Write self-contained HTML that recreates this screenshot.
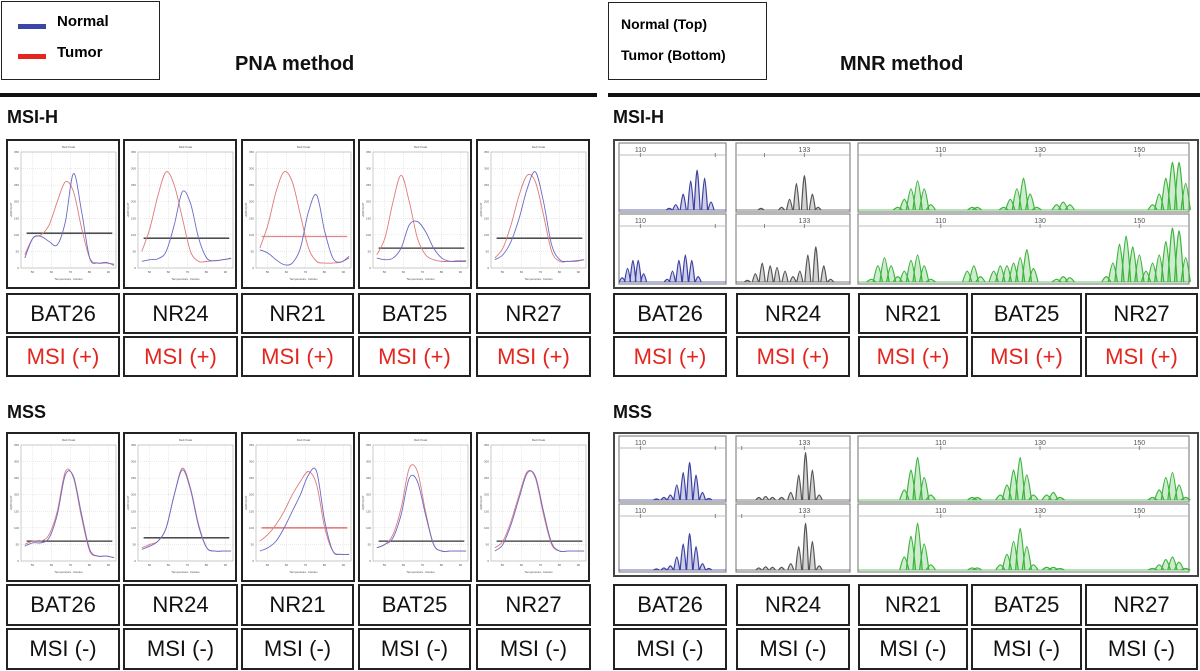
<!DOCTYPE html>
<html><head><meta charset="utf-8"><style>
body{margin:0;background:#fff;width:1200px;height:671px;overflow:hidden;position:relative;font-family:"Liberation Sans",sans-serif}
.abs{position:absolute}
.box{position:absolute;border:2px solid #222;box-sizing:border-box;display:flex;align-items:center;justify-content:center;font-size:22px;color:#111}
.red{color:#e3261f}
.hdr{position:absolute;font-weight:bold;font-size:20px;color:#111}
.sec{position:absolute;font-weight:bold;font-size:18px;color:#111}
</style></head><body>
<div class="abs" style="left:1px;top:1px;width:159px;height:79px;border:1px solid #222;box-sizing:border-box">
 <div class="abs" style="left:16px;top:22px;width:28px;height:5px;background:#3a46a8"></div>
 <div class="abs" style="left:55px;top:11px;font-weight:bold;font-size:15px">Normal</div>
 <div class="abs" style="left:16px;top:52px;width:28px;height:5px;background:#e3261f"></div>
 <div class="abs" style="left:55px;top:42px;font-weight:bold;font-size:15px">Tumor</div>
</div>
<div class="hdr" style="left:235px;top:53px">PNA method</div>
<div class="abs" style="left:0;top:93px;width:597px;height:4px;background:#111"></div>
<div class="abs" style="left:608px;top:2px;width:159px;height:78px;border:1px solid #222;box-sizing:border-box;font-weight:bold;font-size:14px">
 <div class="abs" style="left:12px;top:13px">Normal (Top)</div>
 <div class="abs" style="left:12px;top:44px">Tumor (Bottom)</div>
</div>
<div class="hdr" style="left:840px;top:53px">MNR method</div>
<div class="abs" style="left:608px;top:93px;width:592px;height:4px;background:#111"></div>
<div class="sec" style="left:7px;top:107px">MSI-H</div>
<div class="sec" style="left:613px;top:107px">MSI-H</div>
<div class="sec" style="left:7px;top:402px">MSS</div>
<div class="sec" style="left:613px;top:402px">MSS</div>
<div id="root"></div>
<script>
const markers = ["BAT26","NR24","NR21","BAT25","NR27"];
const hRed = [
 [40,90,100,130,200,260,230,120,30,15,15,12],
 [50,120,220,290,250,150,50,20,20,22,25,28],
 [60,130,230,290,260,160,60,20,15,15,18,30],
 [40,90,200,280,200,90,40,25,20,20,22,22],
 [30,60,130,220,280,260,160,50,20,20,20,25]];
const hBlue = [
 [30,90,95,80,70,140,285,170,30,15,17,8],
 [20,25,28,50,130,230,195,90,30,22,25,30],
 [55,45,25,10,15,60,170,220,110,30,18,35],
 [30,25,30,60,130,140,110,60,30,20,20,20],
 [25,40,80,150,240,290,200,70,25,20,22,25]];
const hThr = [105,90,95,60,90];
const sRed = [
 [50,60,60,80,150,270,250,130,30,15,15,10],
 [40,50,60,100,200,280,220,110,40,30,30,30],
 [60,80,110,150,200,240,270,230,100,30,20,20],
 [40,50,80,160,280,270,150,50,30,30,30,30],
 [40,60,120,200,270,250,140,50,30,30,30,30]];
const sBlue = [
 [45,55,55,70,140,260,255,140,35,15,15,10],
 [35,45,60,100,200,275,215,105,40,30,30,30],
 [30,40,60,100,150,200,260,270,120,30,20,20],
 [40,50,70,140,250,240,140,50,30,30,30,30],
 [30,50,110,190,265,255,150,55,30,30,30,30]];
const sThr = [60,70,100,60,60];
const yTicks = [0,50,100,150,200,250,300,350];
const xTicks = ["50","60","70","80","90"];
const hBat26TopPos=[0.47,0.53,0.6,0.67,0.73,0.8,0.86], hBat26TopH=[0.03,0.1,0.3,0.55,0.75,0.6,0.15];
const hBat26BotPos=[0.03,0.08,0.13,0.18,0.23,0.45,0.5,0.56,0.62,0.68,0.74], hBat26BotH=[0.08,0.25,0.4,0.4,0.15,0.05,0.2,0.4,0.5,0.4,0.1];
const hNr24TopPos=[0.22,0.4,0.47,0.53,0.6,0.67,0.72], hNr24TopH=[0.03,0.05,0.2,0.5,0.65,0.3,0.05];
const hNr24BotPos=[0.1,0.17,0.23,0.3,0.36,0.43,0.5,0.56,0.63,0.7,0.77,0.83], hNr24BotH=[0.03,0.15,0.35,0.3,0.27,0.2,0.1,0.2,0.5,0.65,0.3,0.05];
const hGrTopPos=[0.12,0.14,0.16,0.18,0.2,0.22,0.345,0.36,0.44,0.46,0.48,0.5,0.52,0.54,0.6,0.62,0.64,0.89,0.91,0.93,0.95,0.97,0.99], hGrTopH=[0.05,0.2,0.4,0.55,0.4,0.1,0.05,0.05,0.05,0.2,0.4,0.6,0.3,0.05,0.1,0.15,0.1,0.1,0.3,0.6,0.9,0.9,0.5];
const hGrBotPos=[0.04,0.06,0.08,0.1,0.12,0.14,0.16,0.18,0.2,0.22,0.33,0.35,0.37,0.41,0.43,0.45,0.47,0.49,0.51,0.53,0.6,0.62,0.64,0.75,0.77,0.79,0.81,0.83,0.85,0.87,0.89,0.91,0.93,0.95,0.97,0.99], hGrBotH=[0.05,0.3,0.45,0.3,0.1,0.2,0.4,0.5,0.3,0.05,0.2,0.3,0.1,0.2,0.3,0.3,0.35,0.45,0.6,0.25,0.05,0.1,0.08,0.1,0.35,0.7,0.85,0.65,0.5,0.2,0.35,0.5,0.75,1.0,0.95,0.45];
const sBat26Pos=[0.35,0.42,0.48,0.54,0.6,0.66,0.72,0.78,0.84], sBat26TopH=[0.02,0.05,0.1,0.3,0.55,0.75,0.5,0.15,0.03], sBat26BotH=[0.02,0.04,0.08,0.25,0.5,0.7,0.45,0.12,0.03];
const sNr24Pos=[0.2,0.26,0.32,0.4,0.48,0.55,0.61,0.67,0.73], sNr24TopH=[0.05,0.07,0.05,0.05,0.15,0.5,0.95,0.6,0.1], sNr24BotH=[0.04,0.06,0.05,0.05,0.12,0.45,0.9,0.55,0.08];
const sGrPos=[0.14,0.16,0.18,0.2,0.22,0.345,0.36,0.43,0.45,0.47,0.49,0.51,0.53,0.57,0.59,0.61,0.89,0.91,0.93,0.95,0.97,0.99];
const sGrTopH=[0.2,0.6,0.85,0.45,0.1,0.05,0.05,0.1,0.3,0.6,0.85,0.5,0.1,0.1,0.15,0.05,0.05,0.2,0.45,0.55,0.3,0.05];
const sGrBotH=[0.25,0.65,0.9,0.5,0.1,0.04,0.04,0.1,0.3,0.55,0.8,0.45,0.1,0.05,0.05,0.03,0.03,0.1,0.2,0.25,0.15,0.03];

const NS="http://www.w3.org/2000/svg";
const root=document.getElementById('root');
function mk(tag,attrs,parent){const e=document.createElementNS(NS,tag);for(const k in attrs)e.setAttribute(k,attrs[k]);if(parent)parent.appendChild(e);return e;}
function svgAt(x,y,w,h){const s=document.createElementNS(NS,'svg');s.setAttribute('width',w);s.setAttribute('height',h);s.style.cssText=`position:absolute;left:${x}px;top:${y}px`;root.appendChild(s);return s;}
function smooth(pts){let d=`M${pts[0][0]},${pts[0][1]}`;for(let i=0;i<pts.length-1;i++){const p0=pts[Math.max(0,i-1)],p1=pts[i],p2=pts[i+1],p3=pts[Math.min(pts.length-1,i+2)];d+=` C${p1[0]+(p2[0]-p0[0])/6},${p1[1]+(p2[1]-p0[1])/6} ${p2[0]-(p3[0]-p1[0])/6},${p2[1]-(p3[1]-p1[1])/6} ${p2[0]},${p2[1]}`;}return d;}

const pnaX=[6,123,241,358,476], pnaW=114;
function pnaPanel(i,top,red,blue,thr,thrColor,tag){
 const s=svgAt(pnaX[i],top,pnaW,150);
 
 
 mk('rect',{x:1,y:1,width:pnaW-2,height:148,fill:'#fff',stroke:'#222','stroke-width':2},s);
 const L=15,R=110,T=13,B=129;
 const xs=t=>L+(R-L)*(0.04+0.94*t), ys=v=>B-(B-T)*v/350;
 mk('text',{x:(L+R)/2,y:9,'font-size':3,'text-anchor':'middle',fill:'#555'},s).textContent='Melt Peak';
 yTicks.forEach(v=>{mk('line',{x1:L,x2:R,y1:ys(v),y2:ys(v),stroke:'#ddd','stroke-width':0.6,'stroke-dasharray':'1,1'},s);
  mk('text',{x:L-2,y:ys(v)+1,'font-size':3,'text-anchor':'end',fill:'#555'},s).textContent=v;});
 xTicks.forEach((t,k)=>{const x=L+(R-L)*(0.12+0.2*k);mk('line',{x1:x,x2:x,y1:T,y2:B,stroke:'#ddd','stroke-width':0.6,'stroke-dasharray':'1,1'},s);
  mk('text',{x:x,y:B+5,'font-size':3,'text-anchor':'middle',fill:'#555'},s).textContent=t;});
 mk('rect',{x:L,y:T,width:R-L,height:B-T,fill:'none',stroke:'#aaa','stroke-width':0.6},s);
 mk('text',{x:(L+R)/2,y:B+12,'font-size':3,'text-anchor':'middle',fill:'#555'},s).textContent='Temperature, Celsius';
 mk('text',{x:6,y:(T+B)/2,'font-size':3,'text-anchor':'middle',fill:'#555',transform:`rotate(-90 6 ${(T+B)/2})`},s).textContent='-d(RFU)/dT';
 const hl=mk('line',{x1:xs(0.02),x2:xs(0.98),y1:ys(thr),y2:ys(thr),stroke:thrColor,'stroke-width':1.3},s);
 
 const rp=mk('path',{d:smooth(red.map((v,k)=>[xs(k/(red.length-1)),ys(v)])),fill:'none',stroke:'#e07a7a','stroke-width':0.9},s);
 
 const bp=mk('path',{d:smooth(blue.map((v,k)=>[xs(k/(blue.length-1)),ys(v)])),fill:'none',stroke:'#6a6ac8','stroke-width':0.9},s);
 
}
for(let i=0;i<5;i++){
 pnaPanel(i,139,hRed[i],hBlue[i],hThr[i],i==2?'#d88':'#333','msi-h');
 pnaPanel(i,432,sRed[i],sBlue[i],sThr[i],i==2?'#d55':'#333','mss');
}
function mnrGroup(top,h,tag){
 const s=svgAt(613,top,586,h);
 
 
 mk('rect',{x:1,y:1,width:584,height:h-2,fill:'#fff',stroke:'#444','stroke-width':2},s);
 return s;
}
function sub(s,x,y,w,h,pos,hts,color,labels,name){
 const g=mk('g',{},s);
 
 mk('rect',{x:x,y:y,width:w,height:h,fill:'#fff',stroke:'#888','stroke-width':1.2},g);
 mk('line',{x1:x,x2:x+w,y1:y+12,y2:y+12,stroke:'#bbb','stroke-width':1},g);
 labels.forEach(l=>{mk('text',{x:x+w*l[1],y:y+9,'font-size':7,'text-anchor':'middle',fill:'#555'},g).textContent=l[0];
  mk('line',{x1:x+w*l[1],x2:x+w*l[1],y1:y+10,y2:y+14,stroke:'#888'},g);});
 const base=y+h-2, maxH=h-16, hw=Math.max(3,w*0.014);
 pos.forEach((p,k)=>{const px=x+w*p, py=base-maxH*hts[k];
  const pk=mk('path',{d:`M${px-hw},${base} Q${px-hw*0.3},${py} ${px},${py} Q${px+hw*0.3},${py} ${px+hw},${base}`,fill:color,'fill-opacity':0.25,stroke:color,'stroke-width':1.2},g);
  });
 mk('line',{x1:x,x2:x+w,y1:base,y2:base,stroke:color,'stroke-width':0.8},g);
}
const blue='#3b3fa0',gray='#555',green='#3cb43c';
let s=mnrGroup(139,150,'msi-h');
sub(s,6,4,107,69,hBat26TopPos,hBat26TopH,blue,[['110',0.2],['',0.9]],'bat26-normal');
sub(s,6,75,107,70,hBat26BotPos,hBat26BotH,blue,[['110',0.2],['',0.9]],'bat26-tumor');
sub(s,123,4,114,69,hNr24TopPos,hNr24TopH,gray,[['',0.25],['133',0.6]],'nr24-normal');
sub(s,123,75,114,70,hNr24BotPos,hNr24BotH,gray,[['',0.25],['133',0.6]],'nr24-tumor');
sub(s,245,4,331,69,hGrTopPos,hGrTopH,green,[['110',0.25],['130',0.55],['150',0.85]],'multiplex-normal');
sub(s,245,75,331,70,hGrBotPos,hGrBotH,green,[['110',0.25],['130',0.55],['150',0.85]],'multiplex-tumor');
s=mnrGroup(432,145,'mss');
sub(s,6,4,107,66,sBat26Pos,sBat26TopH,blue,[['110',0.2],['',0.9]],'bat26-normal');
sub(s,6,72,107,68,sBat26Pos,sBat26BotH,blue,[['110',0.2],['',0.9]],'bat26-tumor');
sub(s,123,4,114,66,sNr24Pos,sNr24TopH,gray,[['',0.05],['133',0.6]],'nr24-normal');
sub(s,123,72,114,68,sNr24Pos,sNr24BotH,gray,[['',0.05],['133',0.6]],'nr24-tumor');
sub(s,245,4,331,66,sGrPos,sGrTopH,green,[['110',0.25],['130',0.55],['150',0.85]],'multiplex-normal');
sub(s,245,72,331,68,sGrPos,sGrBotH,green,[['110',0.25],['130',0.55],['150',0.85]],'multiplex-tumor');

const rX=[613,736,858,971,1085], rW=[114,114,110,111,113];
function boxes(xsA,wsA,top,h,texts,cls,tag){
 texts.forEach((t,i)=>{const d=document.createElement('div');d.className='box '+cls;
  d.style.cssText=`left:${xsA[i]}px;top:${top}px;width:${wsA[i]}px;height:${h}px`;d.textContent=t;
  
  
  root.appendChild(d);});
}
const lW=[114,115,113,113,115];
boxes(pnaX,lW,293,41,markers,'','pna-msi-h-marker');
boxes(pnaX,lW,336,41,markers.map(()=>'MSI (+)'),'red','pna-msi-h-result');
boxes(pnaX,lW,584,42,markers,'','pna-mss-marker');
boxes(pnaX,lW,628,42,markers.map(()=>'MSI (-)'),'','pna-mss-result');
boxes(rX,rW,293,41,markers,'','mnr-msi-h-marker');
boxes(rX,rW,336,41,markers.map(()=>'MSI (+)'),'red','mnr-msi-h-result');
boxes(rX,rW,584,42,markers,'','mnr-mss-marker');
boxes(rX,rW,628,42,markers.map(()=>'MSI (-)'),'','mnr-mss-result');
</script>
</body></html>
